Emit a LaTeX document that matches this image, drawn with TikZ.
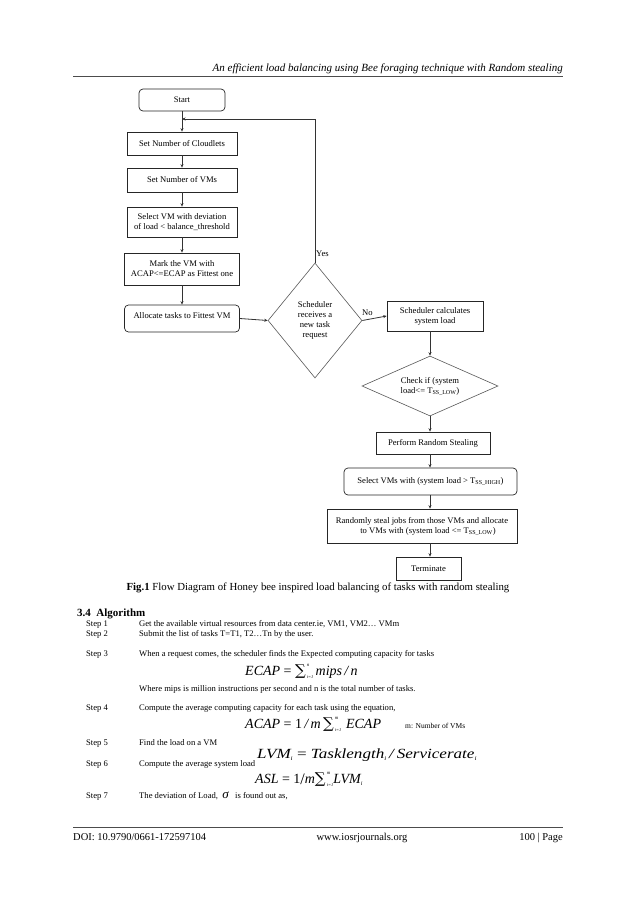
\documentclass[tikz,border=0pt]{standalone}
\usepackage{fontspec}
\setmainfont{Liberation Serif}
\newfontfamily\symf{DejaVu Serif}
\usetikzlibrary{shapes.geometric,arrows.meta}
\newcommand{\fcf}{\fontsize{8.6}{10}\selectfont}
\newcommand{\bodyf}{\fontsize{8.6}{10}\selectfont}
\newcommand{\eqf}{\fontsize{14}{16}\selectfont\itshape}
\newcommand{\mysum}[2]{{\symf\upshape\fontsize{15}{16}\selectfont ∑}\kern1.2pt\makebox[0pt][l]{\raisebox{8.5pt}{\fontsize{4.8}{5}\selectfont\itshape #2}}\raisebox{-3.5pt}{\fontsize{4.4}{5}\selectfont\itshape #1}}
\newcommand{\sbi}{\raisebox{-2pt}{\fontsize{6}{6}\selectfont\itshape i}}
\begin{document}
\begin{tikzpicture}[x=1pt,y=-1pt,
  box/.style={draw=black!85, line width=0.7pt, align=center, inner sep=1pt, font=\fcf},
  rbox/.style={box, rounded corners=4pt},
  dia/.style={draw=black!65, diamond, line width=0.6pt, align=center, inner sep=0pt, font=\fcf},
  arr/.style={-{Stealth[length=3.5pt,width=3pt]}, line width=0.8pt, draw=black!80},
  lbl/.style={inner sep=0pt, font=\fcf},
  bt/.style={anchor=base west, inner sep=0pt, font=\bodyf},
  eqn/.style={anchor=base west, inner sep=0pt, font=\eqf}]
\fill[white] (0,0) rectangle (638,902);
\useasboundingbox (0,0) rectangle (638,902);

% header
\node[anchor=base east, inner sep=0pt, font=\fontsize{11}{13}\selectfont\itshape] (hdr) at (563,71)
  {An efficient load balancing using Bee foraging technique with Random stealing};
\draw[line width=0.6pt, black!70] (73,76) -- (563,76);

% flowchart
\node[rbox, minimum width=86, minimum height=22] (start) at (182,100) {Start};
\node[box, minimum width=110, minimum height=23] (cloud) at (182,143.5) {Set Number of Cloudlets};
\node[box, minimum width=110, minimum height=24] (vms) at (182,180) {Set Number of VMs};
\node[box, minimum width=110, minimum height=30] (sel) at (182,222) {Select VM with deviation\\of load < balance\_threshold};
\node[box, minimum width=115, minimum height=32] (mark) at (182,269) {Mark the VM with\\ACAP<=ECAP as Fittest one};
\node[rbox, minimum width=115, minimum height=27, text depth=5pt] (alloc) at (182,318.5) {Allocate tasks to Fittest VM};
\node[dia, minimum width=94, minimum height=115] (sched) at (315,320.5) {Scheduler\\receives a\\new task\\request};
\node[box, minimum width=96, minimum height=30] (calc) at (435,316) {Scheduler calculates\\system load};
\node[dia, minimum width=136, minimum height=60, shape aspect=2.2] (check) at (430,386) {Check if (system\\load<= T\textsubscript{SS\_LOW})};
\node[box, minimum width=114, minimum height=22] (steal) at (433,443) {Perform Random Stealing};
\node[rbox, minimum width=173, minimum height=27] (selvm) at (430.5,481.5) {Select VMs with (system load > T\textsubscript{SS\_HIGH})};
\node[box, minimum width=190, minimum height=34] (rand) at (422,526) {Randomly steal jobs from those VMs and allocate\\\hspace*{12pt}to VMs with (system load <= T\textsubscript{SS\_LOW})};
\node[box, minimum width=65, minimum height=23] (term) at (428.5,568.5) {Terminate};

\coordinate (fb) at (182,119);
\draw[arr] (start.south) -- (cloud.north);
\draw[arr] (cloud.south) -- (vms.north);
\draw[arr] (vms.south) -- (sel.north);
\draw[arr] (sel.south) -- (mark.north);
\draw[arr] (mark.south) -- (alloc.north);
\draw[arr] (alloc.east) -- (sched.west);
\draw[arr] (sched.north) -- (sched.north |- fb) -- (fb);
\draw[arr] (sched.east) -- (calc.west);
\draw[arr] (calc.south -| check.north) -- (check.north);
\draw[arr] (check.south) -- (check.south |- steal.north);
\draw[arr] (check.south |- steal.south) -- (check.south |- selvm.north);
\draw[arr] (check.south |- selvm.south) -- (check.south |- rand.north);
\draw[arr] (check.south |- rand.south) -- (check.south |- term.north);
\node[lbl, anchor=west] (yes) at (316,254) {Yes};
\node[lbl] (no) at (367.5,313) {No};

% caption
\node[anchor=base, inner sep=0pt, font=\fontsize{10.8}{12}\selectfont] (cap) at (318,590)
  {\textbf{Fig.1} Flow Diagram of Honey bee inspired load balancing of tasks with random stealing};

% algorithm
\node[anchor=base west, inner sep=0pt, font=\fontsize{11}{13}\selectfont\bfseries] (alg) at (77,616) {3.4\ \ Algorithm};
\node[bt] (s1) at (86,626) {Step 1};
\node[bt] (t1) at (139,626) {Get the available virtual resources from data center.ie, VM1, VM2… VMm};
\node[bt] (s2) at (86,636) {Step 2};
\node[bt] (t2) at (139,636) {Submit the list of tasks T=T1, T2…Tn by the user.};
\node[bt] (s3) at (86,656) {Step 3};
\node[bt] (t3) at (139,656) {When a request comes, the scheduler finds the Expected computing capacity for tasks};
\node[eqn] (e3) at (245,675) {ECAP {\upshape=} \mysum{i=1}{n}\,mips\,/\,n};
\node[bt] (t3b) at (139,691) {Where mips is million instructions per second and n is the total number of tasks.};
\node[bt] (s4) at (86,710) {Step 4};
\node[bt] (t4) at (139,710) {Compute the average computing capacity for each task using the equation,};
\node[eqn] (e4) at (245,728) {ACAP {\upshape=} {\upshape 1}\,/\,m\,\mysum{i=1}{m}\,\,ECAP};
\node[anchor=base west, inner sep=0pt, font=\fontsize{7.5}{9}\selectfont] (m) at (405,728) {m: Number of VMs};
\node[bt] (s5) at (86,745) {Step 5};
\node[bt] (t5) at (139,745) {Find the load on a VM};
\node[eqn] (e5) at (257,758) {\scalebox{1.22}[1]{LVM\sbi\ {\upshape=} Tasklength\sbi\,/\,Servicerate\sbi}};
\node[bt] (s6) at (86,766) {Step 6};
\node[bt] (t6) at (139,766) {Compute the average system load};
\node[eqn] (e6) at (255,783) {ASL {\upshape=} {\upshape 1}\raisebox{-1pt}{\fontsize{16}{16}\selectfont\upshape/}m\mysum{i=1}{m}LVM\sbi};
\node[bt] (s7) at (86,798) {Step 7};
\node[bt] (t7) at (139,798) {The deviation of Load,\ \ {\fontsize{13}{14}\selectfont\itshape σ}\ \ \ is found out as,};

% footer
\draw[line width=0.6pt, black!70] (73,827) -- (563,827);
\node[anchor=base west, inner sep=0pt, font=\fontsize{10.5}{12}\selectfont] (doi) at (73,840) {DOI: 10.9790/0661-172597104};
\node[anchor=base, inner sep=0pt, font=\fontsize{10.5}{12}\selectfont] (www) at (362,840) {www.iosrjournals.org};
\node[anchor=base east, inner sep=0pt, font=\fontsize{10.5}{12}\selectfont] (pg) at (563,840) {100 | Page};
\end{tikzpicture}
\end{document}
